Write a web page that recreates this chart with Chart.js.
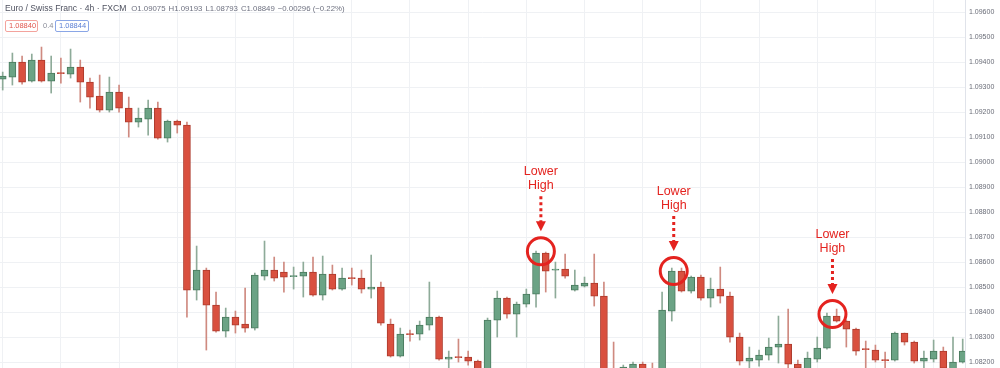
<!DOCTYPE html>
<html>
<head>
<meta charset="utf-8">
<script src="https://cdn.jsdelivr.net/npm/chart.js@4.4.1/dist/chart.umd.min.js"></script>
<style>
	html, body { margin: 0; padding: 0; background: #fff; }
	#wrap { position: relative; width: 1000px; height: 368px; overflow: hidden; }
	canvas { position: absolute; left: 0; top: 0; }
	.legend { position: absolute; font-family: "Liberation Sans", Arial, sans-serif; white-space: nowrap; }
	.row1 { left: 5px; top: 3px; font-size: 8.6px; color: #4f5260; }
	.row1 .v { color: #6e7180; font-size: 7.8px; margin-left: 3px; }
	.box { position: absolute; top: 20px; height: 10px; line-height: 10px; font-size: 7.5px; padding: 0 3px; border-radius: 2px; font-family: "Liberation Sans", Arial, sans-serif; background: #fff; }
	.bid { left: 5px; width: 25px; border: 1px solid #f3a39d; color: #e0574f; }
	.spread { position: absolute; left: 43px; top: 21px; font-size: 7.5px; color: #8a8d99; font-family: "Liberation Sans", Arial, sans-serif; }
	.ask { left: 55px; width: 26px; border: 1px solid #8aa6e6; color: #5b7fd4; }
</style>
</head>
<body>
<div id="wrap">
	<canvas id="chart" width="1000" height="368"></canvas>
	<div class="legend row1">Euro / Swiss Franc · 4h · FXCM<span class="v" style="margin-left:5px">O1.09075</span><span class="v">H1.09193</span><span class="v">L1.08793</span><span class="v">C1.08849</span><span class="v">−0.00296 (−0.22%)</span></div>
	<div class="box bid">1.08840</div>
	<div class="spread">0.4</div>
	<div class="box ask">1.08844</div>
</div>
<script>
// 4h candles, oldest first
const opens = [
	1.09333, 1.09341, 1.09401, 1.09325, 1.09409, 1.09325, 1.09357, 1.09353, 1.09381, 1.09321,
	1.09265, 1.09209, 1.09281, 1.09217, 1.09161, 1.09173, 1.09217, 1.09097, 1.09165, 1.09149,
	1.08489, 1.08569, 1.08429, 1.08325, 1.08381, 1.08353, 1.08337, 1.08545, 1.08569, 1.08561,
	1.08543, 1.08545, 1.08561, 1.08469, 1.08553, 1.08493, 1.08537, 1.08537, 1.08493, 1.08501,
	1.08353, 1.08225, 1.08313, 1.08313, 1.08349, 1.08381, 1.08213, 1.08221, 1.08221, 1.08205,
	1.08129, 1.08369, 1.08457, 1.08393, 1.08433, 1.08473, 1.08637, 1.08569, 1.08573, 1.08489,
	1.08505, 1.08517, 1.08465, 1.08137, 1.08161, 1.08161, 1.08193, 1.08161, 1.08109, 1.08405,
	1.08565, 1.08485, 1.08541, 1.08457, 1.08493, 1.08465, 1.08301, 1.08205, 1.08209, 1.08229,
	1.08261, 1.08273, 1.08193, 1.08169, 1.08213, 1.08257, 1.08385, 1.08365, 1.08333, 1.08253,
	1.08249, 1.08209, 1.08209, 1.08317, 1.08281, 1.08205, 1.08213, 1.08245, 1.08161, 1.08201
];
const highs = [
	1.09361, 1.09437, 1.09425, 1.09433, 1.09461, 1.09425, 1.09417, 1.09453, 1.09409, 1.09337,
	1.09349, 1.09341, 1.09309, 1.09261, 1.09217, 1.09249, 1.09241, 1.09169, 1.09169, 1.09161,
	1.08665, 1.08577, 1.08481, 1.08417, 1.08405, 1.08497, 1.08557, 1.08685, 1.08621, 1.08601,
	1.08581, 1.08601, 1.08621, 1.08625, 1.08589, 1.08577, 1.08577, 1.08569, 1.08629, 1.08521,
	1.08373, 1.08337, 1.08329, 1.08365, 1.08521, 1.08385, 1.08245, 1.08293, 1.08245, 1.08209,
	1.08377, 1.08485, 1.08461, 1.08441, 1.08493, 1.08645, 1.08641, 1.08601, 1.08633, 1.08569,
	1.08541, 1.08633, 1.08521, 1.08281, 1.08189, 1.08201, 1.08201, 1.08197, 1.08481, 1.08577,
	1.08577, 1.08545, 1.08549, 1.08537, 1.08581, 1.08481, 1.08317, 1.08261, 1.08249, 1.08297,
	1.08385, 1.08413, 1.08209, 1.08241, 1.08301, 1.08397, 1.08413, 1.08369, 1.08337, 1.08285,
	1.08269, 1.08241, 1.08321, 1.08317, 1.08285, 1.08245, 1.08289, 1.08261, 1.08301, 1.08293
];
const lows = [
	1.09289, 1.09309, 1.09313, 1.09321, 1.09321, 1.09277, 1.09317, 1.09337, 1.09241, 1.09217,
	1.09201, 1.09201, 1.09201, 1.09101, 1.09141, 1.09109, 1.09093, 1.09081, 1.09117, 1.08381,
	1.08449, 1.08249, 1.08321, 1.08301, 1.08317, 1.08321, 1.08329, 1.08529, 1.08525, 1.08481,
	1.08493, 1.08461, 1.08465, 1.08449, 1.08489, 1.08489, 1.08509, 1.08477, 1.08457, 1.08349,
	1.08221, 1.08221, 1.08285, 1.08289, 1.08329, 1.08209, 1.08177, 1.08201, 1.08189, 1.08149,
	1.08109, 1.08301, 1.08377, 1.08301, 1.08421, 1.08421, 1.08481, 1.08457, 1.08537, 1.08485,
	1.08501, 1.08425, 1.08089, 1.08069, 1.08129, 1.08149, 1.08153, 1.08113, 1.08089, 1.08365,
	1.08481, 1.08477, 1.08449, 1.08421, 1.08437, 1.08281, 1.08189, 1.08177, 1.08185, 1.08209,
	1.08197, 1.08169, 1.08161, 1.08161, 1.08201, 1.08253, 1.08361, 1.08261, 1.08229, 1.08177,
	1.08201, 1.08177, 1.08205, 1.08269, 1.08197, 1.08177, 1.08201, 1.08161, 1.08149, 1.08197
];
const closes = [
	1.09345, 1.09401, 1.09321, 1.09409, 1.09325, 1.09357, 1.09355, 1.09381, 1.09321, 1.09261,
	1.09209, 1.09281, 1.09217, 1.09161, 1.09177, 1.09217, 1.09097, 1.09165, 1.09149, 1.08489,
	1.08569, 1.08429, 1.08325, 1.08381, 1.08349, 1.08337, 1.08549, 1.08569, 1.08537, 1.08541,
	1.08547, 1.08561, 1.08469, 1.08553, 1.08493, 1.08537, 1.08535, 1.08493, 1.08501, 1.08357,
	1.08225, 1.08313, 1.08311, 1.08349, 1.08381, 1.08213, 1.08221, 1.08219, 1.08205, 1.08161,
	1.08369, 1.08457, 1.08393, 1.08433, 1.08473, 1.08637, 1.08565, 1.08573, 1.08545, 1.08509,
	1.08517, 1.08465, 1.08109, 1.08097, 1.08181, 1.08193, 1.08169, 1.08145, 1.08409, 1.08565,
	1.08485, 1.08541, 1.08457, 1.08493, 1.08465, 1.08301, 1.08205, 1.08217, 1.08229, 1.08261,
	1.08273, 1.08193, 1.08177, 1.08217, 1.08257, 1.08385, 1.08365, 1.08333, 1.08245, 1.08251,
	1.08209, 1.08207, 1.08317, 1.08281, 1.08205, 1.08217, 1.08245, 1.08177, 1.08201, 1.08245
];

// price axis labels
const priceTicks = [1.082, 1.083, 1.084, 1.085, 1.086, 1.087, 1.088, 1.089, 1.090, 1.091, 1.092, 1.093, 1.094, 1.095, 1.096];

// "Lower High" marks: candle position and price of the circled high
const markAt = [55.5, 69.2, 85.57];
const markPrice = [1.08644, 1.08565, 1.08393];
const markLines = [`Lower`, `High`];

const green = `#6ba385`;
const greenEdge = `#4a7a5e`;
const greenWick = `#8eab99`;
const red = `#d9503f`;
const redEdge = `#ad3a2c`;
const redWick = `#cf8a80`;
const markRed = `#e4231f`;
const gridColor = `#eff1f4`;

const isUp = opens.map((o, i) => closes[i] >= o);

const bodies = opens.map((o, i) => ({x: i, y: [o, closes[i]]}));
const wicks = lows.map((l, i) => ({x: i, y: [l, highs[i]]}));

const noPadding = scale => {
	scale.paddingTop = 0;
	scale.paddingBottom = 0;
	scale.paddingLeft = 0;
	scale.paddingRight = 0;
};

const lowerHighMarks = {
	id: `lowerHighMarks`,
	afterDatasetsDraw(chart) {
		const {ctx, scales: {x, y}} = chart;
		ctx.save();
		markAt.forEach((at, i) => {
			const cx = x.getPixelForValue(at);
			const cy = y.getPixelForValue(markPrice[i]);

			ctx.strokeStyle = markRed;
			ctx.lineWidth = 3;
			ctx.beginPath();
			ctx.arc(cx, cy, 13.5, 0, Math.PI * 2);
			ctx.stroke();

			// dotted shaft + head
			ctx.setLineDash([3, 3]);
			ctx.beginPath();
			ctx.moveTo(cx, cy - 55);
			ctx.lineTo(cx, cy - 29);
			ctx.stroke();
			ctx.setLineDash([]);
			ctx.fillStyle = markRed;
			ctx.beginPath();
			ctx.moveTo(cx - 5, cy - 30);
			ctx.lineTo(cx + 5, cy - 30);
			ctx.lineTo(cx, cy - 20);
			ctx.closePath();
			ctx.fill();

			ctx.font = `12.5px "Liberation Sans", Arial, sans-serif`;
			ctx.textAlign = `center`;
			ctx.textBaseline = `middle`;
			ctx.fillText(markLines[0], cx, cy - 80);
			ctx.fillText(markLines[1], cx, cy - 66);
		});
		ctx.restore();
	}
};

new Chart(document.getElementById(`chart`), {
	type: `bar`,
	data: {
		datasets: [
			{
				label: `Body`,
				data: bodies,
				backgroundColor: isUp.map(up => up ? green : red),
				borderColor: isUp.map(up => up ? greenEdge : redEdge),
				borderWidth: 1,
				borderSkipped: false,
				barThickness: 7,
				minBarLength: 1,
				grouped: false,
				order: 0
			},
			{
				label: `Wick`,
				data: wicks,
				backgroundColor: isUp.map(up => up ? greenWick : redWick),
				borderWidth: 0,
				barThickness: 1,
				grouped: false,
				order: 1
			}
		]
	},
	options: {
		responsive: false,
		animation: false,
		devicePixelRatio: 1,
		layout: {padding: 0},
		plugins: {
			legend: {display: false},
			tooltip: {enabled: false}
		},
		scales: {
			x: {
				type: `linear`,
				offset: false,
				min: -0.278,
				max: 99.237,
				grid: {color: gridColor, drawTicks: false, offset: false},
				border: {display: false},
				ticks: {display: false},
				afterBuildTicks: scale => {
					const t = [];
					for (let v = 0; v <= 96; v += 6) { t.push({value: v}); }
					scale.ticks = t;
				},
				afterFit: scale => { scale.height = 0; noPadding(scale); }
			},
			y: {
				position: `right`,
				min: 1.081772,
				max: 1.096492,
				grid: {color: gridColor, drawTicks: false},
				border: {display: true, color: `#e0e3ea`},
				ticks: {
					padding: 4,
					color: `#6a6d78`,
					font: {family: `"Liberation Sans", Arial, sans-serif`, size: 7},
					callback: val => val.toFixed(5)
				},
				afterBuildTicks: scale => {
					scale.ticks = priceTicks.map(v => ({value: v}));
				},
				afterFit: scale => { scale.width = 35; noPadding(scale); }
			}
		}
	},
	plugins: [lowerHighMarks]
});
</script>
</body>
</html>
